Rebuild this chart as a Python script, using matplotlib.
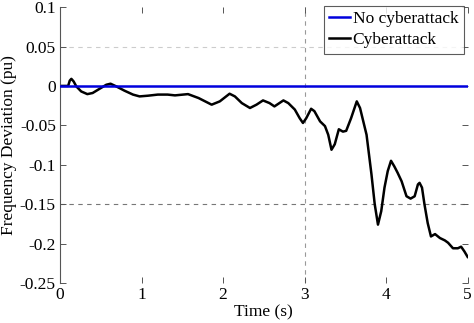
import matplotlib
matplotlib.use("Agg")
import matplotlib.pyplot as plt

# Data
t_no = [0.0, 5.0]
f_no = [0.0, 0.0]

t_cy = [0.0, 0.10, 0.119, 0.139, 0.167, 0.20, 0.26, 0.335, 0.40, 0.486, 0.568, 0.62,
        0.69, 0.79, 0.895, 0.976, 1.08, 1.20, 1.32, 1.41, 1.57, 1.70, 1.86, 1.96,
        2.08, 2.145, 2.23, 2.33, 2.41, 2.49, 2.57, 2.63, 2.74, 2.80, 2.88, 2.94,
        2.98, 3.02, 3.08, 3.12, 3.19, 3.25, 3.29, 3.33, 3.37, 3.42, 3.47, 3.51,
        3.57, 3.64, 3.68, 3.72, 3.76, 3.79, 3.82, 3.86, 3.90, 3.94, 3.98, 4.02,
        4.06, 4.10, 4.14, 4.19, 4.25, 4.30, 4.35, 4.39, 4.41, 4.44, 4.47, 4.51,
        4.55, 4.60, 4.66, 4.72, 4.76, 4.82, 4.88, 4.92, 4.96, 5.0]
f_cy = [0.0, 0.0, 0.0066, 0.009, 0.0057, -0.0006, -0.007, -0.0104, -0.009, -0.0036, 0.0015, 0.0028,
        -0.0006, -0.006, -0.011, -0.0133, -0.0124, -0.011, -0.011, -0.012, -0.0104, -0.0154, -0.0238, -0.0196,
        -0.0099, -0.0133, -0.0218, -0.028, -0.0238, -0.0184, -0.0218, -0.026, -0.0184, -0.0218, -0.030, -0.041,
        -0.047, -0.041, -0.029, -0.032, -0.045, -0.051, -0.062, -0.081, -0.074, -0.055, -0.058, -0.057,
        -0.041, -0.0196, -0.028, -0.045, -0.062, -0.087, -0.112, -0.150, -0.176, -0.159, -0.129, -0.108,
        -0.095, -0.102, -0.110, -0.121, -0.140, -0.143, -0.140, -0.125, -0.123, -0.129, -0.150, -0.174,
        -0.191, -0.188, -0.193, -0.196, -0.199, -0.206, -0.206, -0.204, -0.210, -0.217]

x_ticks = [0, 1, 2, 3, 4, 5]
y_ticks = [0.1, 0.05, 0, -0.05, -0.1, -0.15, -0.2, -0.25]
y_tick_labels = ["0.1", "0.05", "0", "-0.05", "-0.1", "-0.15", "-0.2", "-0.25"]

plt.rcParams['font.family'] = ['Liberation Serif', 'DejaVu Serif']
plt.rcParams['axes.unicode_minus'] = False

fig = plt.figure(figsize=(4.74, 3.23), dpi=100)
ax = fig.add_axes([0.1266, 0.124, 0.86, 0.854])

# faint grid lines visible in the reference
ax.axvline(3, color='#999999', lw=0.8, ls=(0, (4, 4)), zorder=0)
ax.axhline(-0.15, color='#777777', lw=0.8, ls=(0, (4, 4)), zorder=0)
ax.axhline(0.05, color='#cccccc', lw=0.8, ls=(0, (4, 4)), zorder=0)

ax.plot(t_no, f_no, color='#0000dd', lw=1.8, label='No cyberattack', zorder=3)
ax.plot(t_cy, f_cy, color='black', lw=1.8, label='Cyberattack', zorder=2,
        solid_joinstyle='round')

ax.set_xlim(0, 5)
ax.set_ylim(-0.25, 0.1)
ax.set_xticks(x_ticks)
ax.set_yticks(y_ticks)
ax.set_yticklabels(y_tick_labels)

for s in ['top', 'right', 'bottom']:
    ax.spines[s].set_visible(False)
ax.spines['left'].set_color('#555555')
ax.tick_params(direction='in', top=True, right=True, length=4, width=0.7,
               color='#555555', labelsize=12.5, pad=3)

ax.set_xlabel('Time (s)', fontsize=12.5, labelpad=1)
ax.set_ylabel('Frequency Deviation (pu)', fontsize=12.5, labelpad=2)

leg = ax.legend(loc='upper right', fontsize=12.5, frameon=True, fancybox=False,
                edgecolor='#333333', handlelength=1.2, handletextpad=0.15,
                borderpad=0.3, labelspacing=0.3, borderaxespad=0.0,
                bbox_to_anchor=(0.99, 1.005))
leg.get_frame().set_linewidth(0.8)

fig.savefig('out.png', dpi=100)
